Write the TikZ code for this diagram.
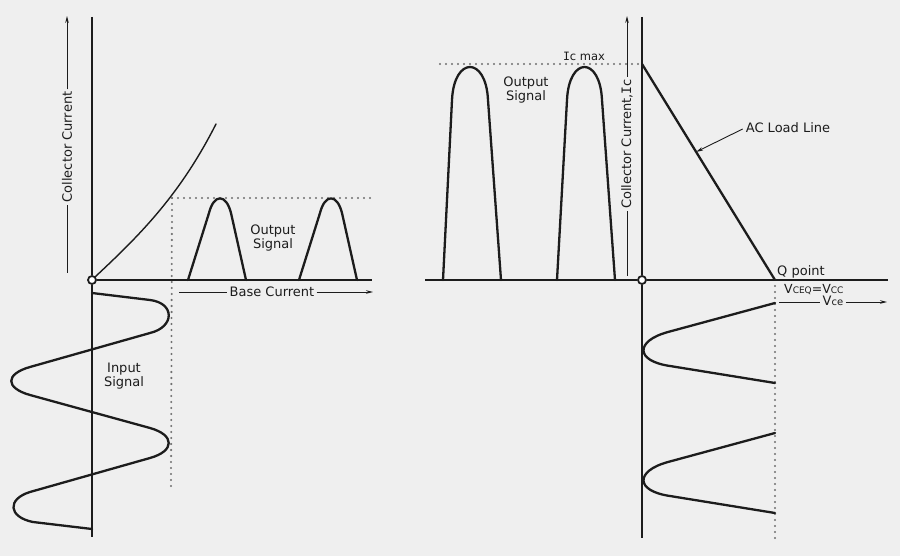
\documentclass[tikz,border=0pt]{standalone}
\usepackage{fontspec}
\setmainfont{DejaVu Sans}
\newfontfamily\monoI{DejaVu Sans Mono}
\usetikzlibrary{arrows.meta}
\definecolor{bg}{HTML}{EFEFEF}
\definecolor{ink}{HTML}{1C1C1C}
\definecolor{dotc}{HTML}{707070}
\newcommand{\bI}{{\monoI I}}
\tikzset{
  axisline/.style={draw=ink, line width=2.2pt},
  curveline/.style={draw=ink, line width=2.3pt, line join=round, line cap=round},
  thinarrow/.style={draw=ink, line width=0.9pt, -{Stealth[length=7pt,width=3.6pt]}},
  thinline/.style={draw=ink, line width=0.9pt},
  dotline/.style={draw=dotc, line width=2.3pt, dash pattern=on 0pt off 6pt, line cap=round},
  lbl/.style={text=ink, inner sep=2pt, font=\fontsize{13}{13.5}\selectfont, align=center},
  origin/.style={circle, draw=ink, fill=white, line width=1.8pt, minimum size=8pt, inner sep=0pt},
}
\begin{document}
\begin{tikzpicture}[x=1pt,y=-1pt]
\useasboundingbox[fill=bg] (0,0) rectangle (900,556);

% ---------------- left graph ----------------
\coordinate (LAtop) at (92,17);
\coordinate (LAbot) at (92,537);
\coordinate (LAright) at (372,280);
\node[origin] (LO) at (92,280) {};
\draw[axisline] (LAtop) -- (LO.north);
\draw[axisline] (LO.south) -- (LAbot);
\draw[axisline] (LO.east) -- (LAright);

% collector current arrow
\node[lbl, rotate=90] (LCC) at (67,147) {Collector Current};
\coordinate (LCCbot) at (67,273);
\coordinate (LCCtop) at (67,16);
\draw[thinline] (LCCbot) -- (LCC.west);
\draw[thinarrow] (LCC.east) -- (LCCtop);

% base current arrow
\node[lbl] (LBC) at (272,292) {Base Current};
\coordinate (LBCl) at (179,292);
\coordinate (LBCr) at (373,292);
\draw[thinline] (LBCl) -- (LBC.west);
\draw[thinarrow] (LBC.east) -- (LBCr);

% transfer curve
\coordinate (TCend) at (216,124);
\draw[curveline, line width=1.4pt] (LO.north east) .. controls (140,235) and (180,195) .. (TCend);

% dotted guides
\coordinate (LDa) at (172,198);
\coordinate (LDb) at (372,198);
\coordinate (LDc) at (171,486);
\draw[dotline] (LDa) -- (LDb);
\draw[dotline] (LDa) -- (LDc);

% output humps
\draw[curveline] (188,280) -- (209,213) .. controls (214,193.5) and (226,193.5) .. (231,213) -- (246,280);
\draw[curveline] (299,280) -- (320,213) .. controls (325,193.5) and (337,193.5) .. (342,213) -- (357,280);
\node[lbl] (LOS) at (273,238) {Output\\Signal};

% input wave
\draw[curveline] (92,293) -- (150,300) .. controls (175,303) and (175,327) .. (150,333)
  -- (30,367) .. controls (5,374) and (5,388) .. (30,395)
  -- (150,428) .. controls (175,435) and (175,451) .. (150,458)
  -- (30,492) .. controls (7,499) and (8,517) .. (33,522) -- (92,529);
\node[lbl] (LIS) at (124,376) {Input\\Signal};

% ---------------- right graph ----------------
\coordinate (RAtop) at (642,17);
\coordinate (RAbot) at (642,538);
\coordinate (RAleft) at (425,280);
\coordinate (RAright) at (888,280);
\node[origin] (RO) at (642,280) {};
\draw[axisline] (RAtop) -- (RO.north);
\draw[axisline] (RO.south) -- (RAbot);
\draw[axisline] (RAleft) -- (RO.west);
\draw[axisline] (RO.east) -- (RAright);

% collector current arrow
\node[lbl, rotate=90] (RCC) at (627,144) {Collector Current,\bI c};
\coordinate (RCCbot) at (627,276);
\coordinate (RCCtop) at (627,16);
\draw[thinline] (RCCbot) -- (RCC.west);
\draw[thinarrow] (RCC.east) -- (RCCtop);

% Ic max dotted line
\coordinate (RIc) at (642,64);
\coordinate (RDl) at (440,64);
\draw[dotline] (RDl) -- (RIc);
\node[text=ink, inner sep=1pt, font=\fontsize{11.5}{12}\selectfont] (ICM) at (584,56) {\bI c max};

% load line
\coordinate (QP) at (775,280);
\draw[curveline] (RIc) -- (QP);
\path (RIc) -- (QP) coordinate[pos=0.407] (LLpt);
\node[lbl] (ACL) at (788,128) {AC Load Line};
\draw[thinarrow] (ACL.west) ++(-1,1) coordinate (ACLs) -- (LLpt);
\node[lbl, anchor=base west, inner sep=0pt] (QPT) at (777,276) {Q point};

% Vceq label and Vce arrow
\node[text=ink, anchor=base west, inner sep=0pt, font=\fontsize{12.5}{13}\selectfont] (VCEQ) at (784,294)
  {V{\fontsize{9}{10}\selectfont CEQ}=V{\fontsize{9}{10}\selectfont CC}};
\node[text=ink, inner sep=2.5pt, font=\fontsize{13}{13}\selectfont] (VCE) at (833,301)
  {V{\fontsize{10}{10}\selectfont ce}};
\coordinate (VCEl) at (779,302);
\coordinate (VCEr) at (887,302);
\draw[thinline] (VCEl) -- (VCE.west |- VCEl);
\draw[thinarrow] (VCE.east |- VCEr) -- (VCEr);

% dotted vertical at Q
\coordinate (RDb) at (775,542);
\draw[dotline] (775,286) -- (RDb);

% output humps (right)
\draw[curveline] (443,280) -- (452,100) .. controls (454,56) and (486,56) .. (488,100) -- (501,280);
\draw[curveline] (557,280) -- (567,100) .. controls (569,56) and (600,56) .. (602,100) -- (615,280);
\node[lbl] (ROS) at (526,90) {Output\\Signal};

% output voltage wave
\draw[curveline] (775,303) -- (668,332) .. controls (635,341) and (635,361) .. (670,366) -- (775,383);
\draw[curveline] (775,433) -- (668,462) .. controls (635,471) and (635,491) .. (670,496) -- (775,513);
\end{tikzpicture}
\end{document}
